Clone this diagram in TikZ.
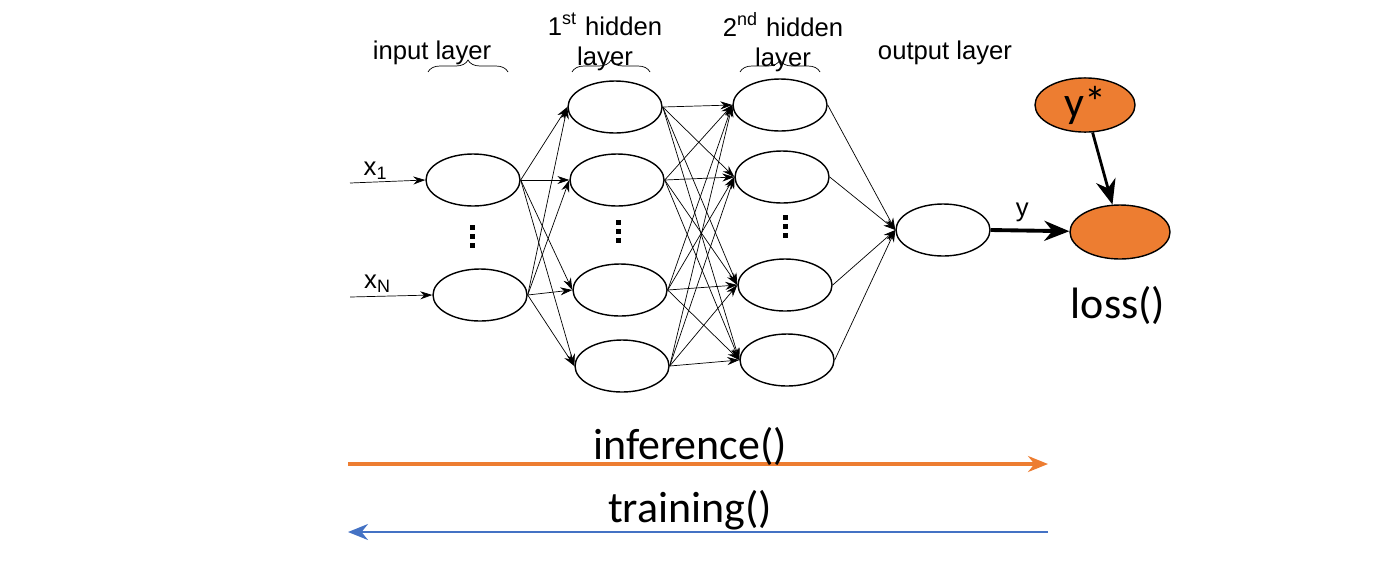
\documentclass[tikz,border=0pt]{standalone}
\usepackage{fontspec}
\setmainfont{Liberation Sans}
\newfontfamily\calib{Carlito}
\usetikzlibrary{shapes.geometric,decorations.pathreplacing,arrows.meta}
\definecolor{lossorange}{RGB}{237,125,49}
\definecolor{trainblue}{RGB}{68,114,196}
\begin{document}
\begin{tikzpicture}[x=0.1mm, y=-0.1mm]
            \tikzstyle{neuron}=[ellipse, draw, thin, inner sep=0pt, minimum width=9.4mm, minimum height=5.2mm]
            \tikzstyle{lossnode}=[ellipse, draw, fill=lossorange, inner sep=0pt, minimum width=10mm, minimum height=5.4mm]
            \tikzstyle{conn}=[-{Stealth[length=1.2mm,width=0.8mm]}, very thin]
            \tikzstyle{lbl}=[font=\fontsize{7.3}{8}\selectfont, align=center, inner sep=1pt]
            \tikzstyle{big}=[font=\calib\fontsize{12.5}{13}\selectfont]
            \tikzstyle{brc}=[decorate, decoration={brace, amplitude=1.2mm}, very thin]
            \useasboundingbox (0,0) rectangle (1400,565);
            % layers
            \node[neuron] (in1) at (473,180) {};
            \node[neuron] (in2) at (480,295) {};
            \node[neuron] (ha1) at (615,107) {};
            \node[neuron] (ha2) at (617,180) {};
            \node[neuron] (ha3) at (620,290) {};
            \node[neuron] (ha4) at (622,366) {};
            \node[neuron] (hb1) at (780,105) {};
            \node[neuron] (hb2) at (782,177) {};
            \node[neuron] (hb3) at (785,285) {};
            \node[neuron] (hb4) at (787,360) {};
            \node[neuron] (out) at (943,230) {};
            \node[lossnode] (loss) at (1120,232) {};
            \node[lossnode, big] (ystar) at (1085,105) {y*};
            % dots
            \foreach \x/\y in {472/236, 618/231, 785/226}
            \foreach \d in {-9,0,9}
            \fill (\x-2.5,\y+\d-2.5) rectangle (\x+2.5,\y+\d+2.5);
            % connections
            \foreach \a in {in1,in2}
            \foreach \b in {ha1,ha2,ha3,ha4}
            \draw[conn] (\a.east) -- (\b.west);
            \foreach \a in {ha1,ha2,ha3,ha4}
            \foreach \b in {hb1,hb2,hb3,hb4}
            \draw[conn] (\a.east) -- (\b.west);
            \foreach \a in {hb1,hb2,hb3,hb4}
            \draw[conn] (\a.east) -- (out.west);
            % inputs
            \coordinate (x1) at (350,183);
            \coordinate (xn) at (350,297);
            \draw[conn] (x1) -- (in1.west);
            \draw[conn] (xn) -- (in2.west);
            \node[lbl] (lx1) at (376,171) {x\textsubscript{1}};
            \node[lbl] (lxn) at (378,284) {x\textsubscript{N}};
            % output and loss
            \draw[-{Stealth[length=2.5mm,width=2mm]}, line width=1.1pt] (out.east) -- (loss) node[pos=0.4, above=1pt, lbl] {y};
            \draw[-{Stealth[length=2.5mm,width=2mm]}, line width=0.8pt] (ystar) -- (loss);
            \node[big] (losslbl) at (1118,305) {loss()};
            % layer titles
            \node[lbl] (tin) at (432,53) {input layer};
            \node[lbl, font=\fontsize{7.3}{8.5}\selectfont] (th1) at (605,42) {1\textsuperscript{st} hidden\\layer};
            \node[lbl, font=\fontsize{7.3}{8.5}\selectfont] (th2) at (783,42) {2\textsuperscript{nd} hidden\\layer};
            \node[lbl] (tout) at (945,53) {output layer};
            \draw[brc] (428,72) -- (508,72);
            \draw[brc] (572,72) -- (650,72);
            \draw[brc] (740,72) -- (820,72);
            % flow arrows
            \coordinate (fl) at (348,464);
            \coordinate (fr) at (1048,464);
            \coordinate (bl) at (348,532);
            \coordinate (br) at (1048,532);
            \draw[-{Stealth[length=2mm,width=1.6mm]}, lossorange, line width=0.9pt] (fl) -- (fr);
            \draw[-{Stealth[length=2mm,width=1.6mm]}, trainblue, semithick] (br) -- (bl);
            \node[big] (inf) at (690,446) {inference()};
            \node[big] (trn) at (690,510) {training()};
        \end{tikzpicture}
\end{document}
